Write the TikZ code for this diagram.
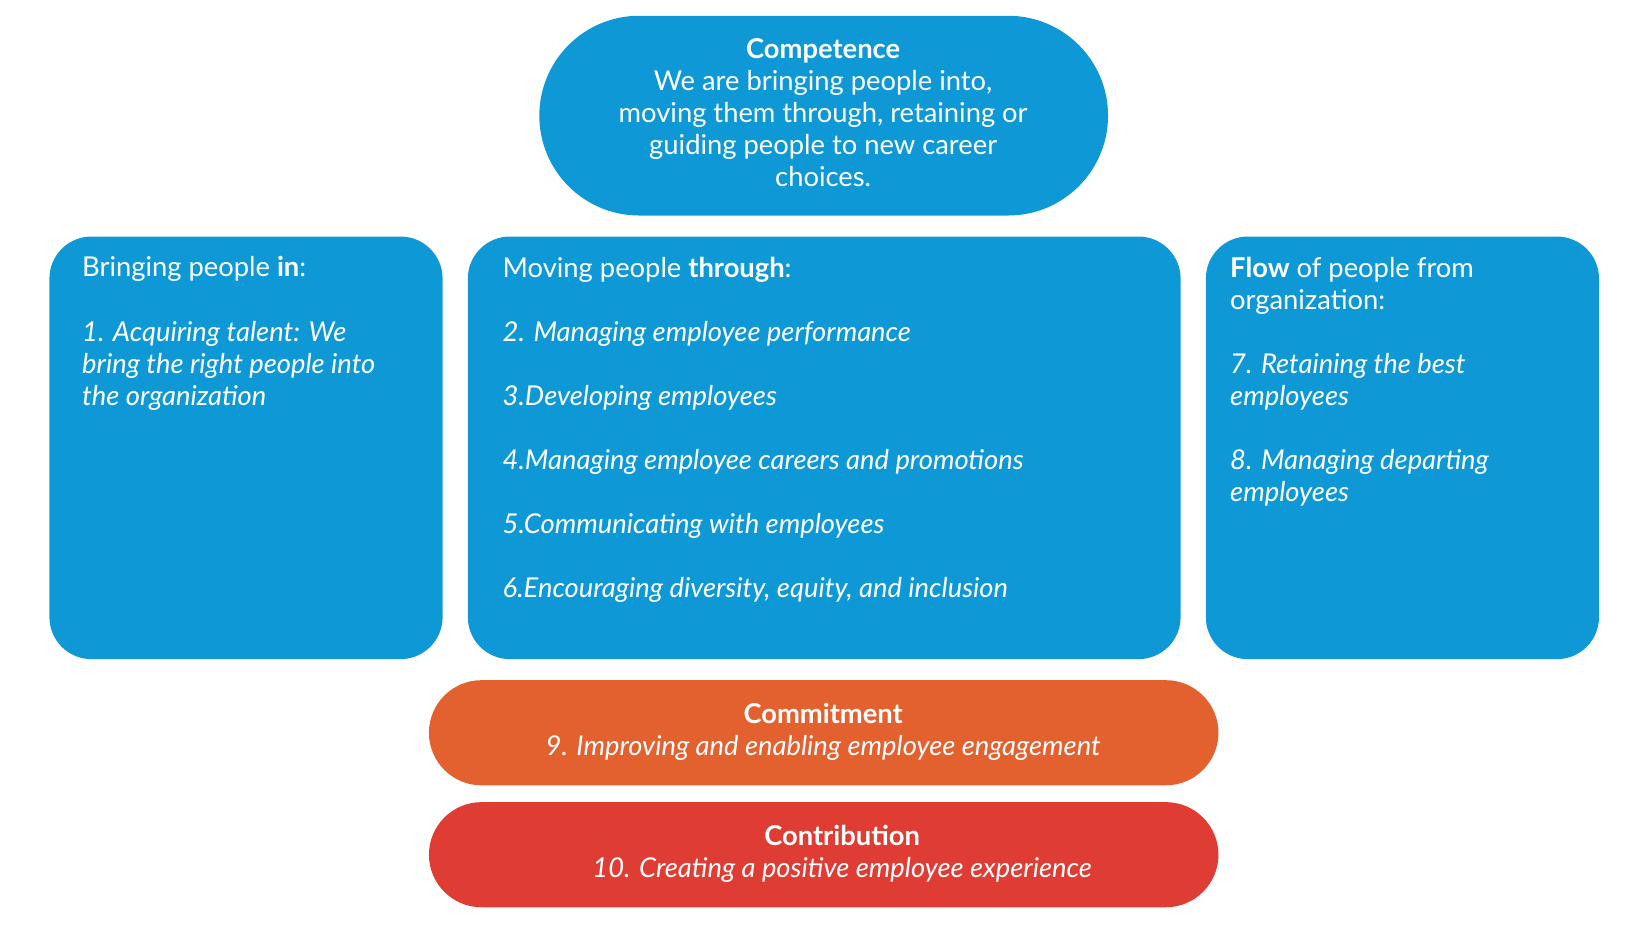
\documentclass[tikz,border=0pt]{standalone}
\usepackage{fontspec}
\setmainfont{Lato}
\definecolor{cblue}{HTML}{0E99D6}
\definecolor{corange}{HTML}{E2612F}
\definecolor{cred}{HTML}{DF3C33}
\begin{document}
\begin{tikzpicture}[x=1pt,y=-1pt,
  txt/.style={text=white,font=\fontsize{26}{30.5}\selectfont,inner sep=0pt},
  hd/.style={txt,align=left,anchor=north west}]
\useasboundingbox (0,0) rectangle (1560,880);
\fill[cblue,rounded corners=95pt] (513,15) rectangle (1054,205);
\fill[cblue,rounded corners=40pt] (47,225) rectangle (421,627);
\fill[cblue,rounded corners=40pt] (445,225) rectangle (1123,627);
\fill[cblue,rounded corners=40pt] (1147,225) rectangle (1521,627);
\fill[corange,rounded corners=50pt] (408,647) rectangle (1159,747);
\fill[cred,rounded corners=50pt] (408,763) rectangle (1159,863);
\node[txt,align=center] (comp) at (783,107) {\textbf{Competence}\\We are bringing people into,\\moving them through, retaining or\\guiding people to new career\\choices.};
\node[hd] (left) at (78,244) {Bringing people \textbf{in}:\\[30.5pt]\itshape 1. Acquiring talent: We\\\itshape bring the right people into\\\itshape the organization};
\node[hd] (mid) at (478,244) {Moving people \textbf{through}:\\[30.5pt]\itshape 2. Managing employee performance\\[30.5pt]\itshape 3.Developing employees\\[30.5pt]\itshape 4.Managing employee careers and promotions\\[30.5pt]\itshape 5.Communicating with employees\\[30.5pt]\itshape 6.Encouraging diversity, equity, and inclusion};
\node[hd] (right) at (1170,244) {\textbf{Flow} of people from\\organization:\\[30.5pt]\itshape 7. Retaining the best\\\itshape employees\\[30.5pt]\itshape 8. Managing departing\\\itshape employees};
\node[txt,align=center] (commit) at (783,696) {\textbf{Commitment}\\\itshape 9. Improving and enabling employee engagement};
\node[txt,align=center] (contrib) at (801,812) {\textbf{Contribution}\\\itshape 10. Creating a positive employee experience};
\end{tikzpicture}
\end{document}
